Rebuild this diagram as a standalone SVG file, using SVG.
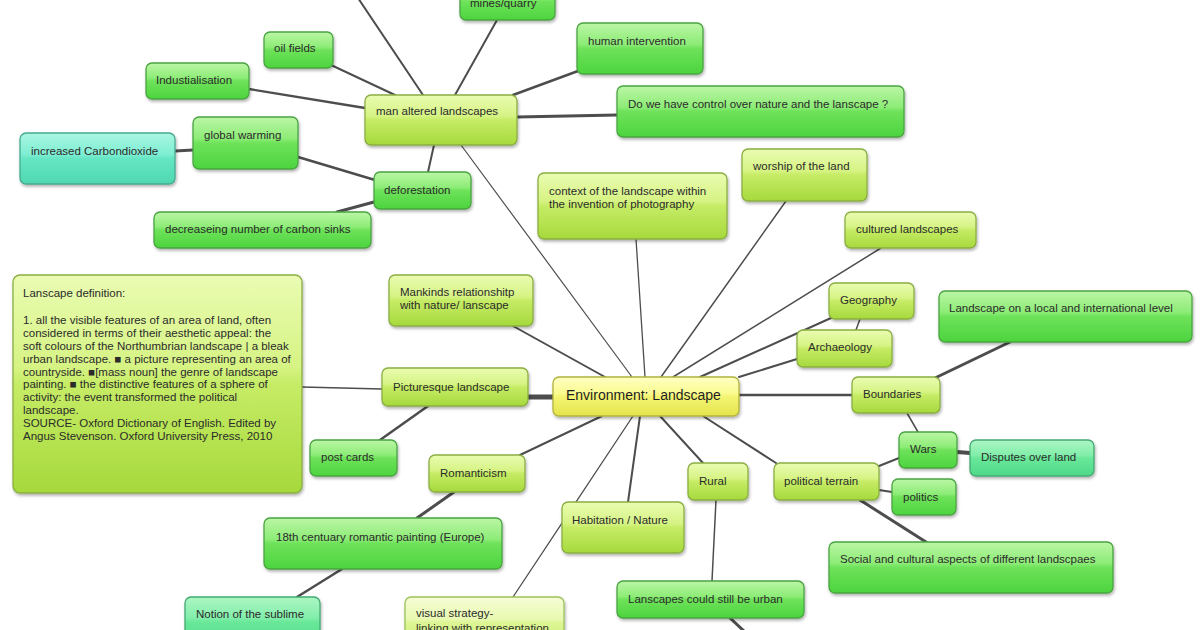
<svg xmlns="http://www.w3.org/2000/svg" width="1200" height="630" viewBox="0 0 1200 630">
<defs>
<linearGradient id="gY" x1="0" y1="0" x2="0" y2="1">
<stop offset="0" stop-color="#eafcb2"/><stop offset="0.42" stop-color="#d6f384"/><stop offset="0.5" stop-color="#c6ec66"/><stop offset="1" stop-color="#a6d93c"/>
</linearGradient>
<linearGradient id="gG" x1="0" y1="0" x2="0" y2="1">
<stop offset="0" stop-color="#bcf6a6"/><stop offset="0.42" stop-color="#8cec76"/><stop offset="0.5" stop-color="#6ee25a"/><stop offset="1" stop-color="#4cd43e"/>
</linearGradient>
<linearGradient id="gT" x1="0" y1="0" x2="0" y2="1">
<stop offset="0" stop-color="#aaf6e2"/><stop offset="0.42" stop-color="#7eeed2"/><stop offset="0.5" stop-color="#66e6c4"/><stop offset="1" stop-color="#4ed8b0"/>
</linearGradient>
<linearGradient id="gM" x1="0" y1="0" x2="0" y2="1">
<stop offset="0" stop-color="#acf6c4"/><stop offset="0.42" stop-color="#82eeaa"/><stop offset="0.5" stop-color="#6ae89a"/><stop offset="1" stop-color="#4ed888"/>
</linearGradient>
<linearGradient id="gC" x1="0" y1="0" x2="0" y2="1">
<stop offset="0" stop-color="#ffffc4"/><stop offset="0.42" stop-color="#fafa90"/><stop offset="0.5" stop-color="#f4f474"/><stop offset="1" stop-color="#e4e44c"/>
</linearGradient>
<linearGradient id="gL" x1="0" y1="0" x2="0" y2="1">
<stop offset="0" stop-color="#f6fdd6"/><stop offset="0.45" stop-color="#e8f9b0"/><stop offset="0.5" stop-color="#def696"/><stop offset="1" stop-color="#c8ee6e"/>
</linearGradient>
<filter id="sh" x="-10%" y="-10%" width="125%" height="140%">
<feDropShadow dx="1" dy="2" stdDeviation="1.4" flood-color="#000" flood-opacity="0.3"/>
</filter>
</defs>
<style>
rect{filter:url(#sh);stroke-width:1.3}
.y{fill:url(#gY);stroke:#8aae42}
.g{fill:url(#gG);stroke:#4aa442}
.t{fill:url(#gT);stroke:#46aa90}
.m{fill:url(#gM);stroke:#44aa72}
.c{fill:url(#gC);stroke:#b2b23c}
.l{fill:url(#gL);stroke:#9cc25a}
text{font-family:"Liberation Sans",Arial,sans-serif;font-size:11.5px;fill:#2b2b2b}
.ct{font-size:14px;fill:#1e1e1e}
#connectors path{fill:none;stroke:#4d4d4d;stroke-linecap:round}
</style>
<rect width="1200" height="630" fill="#ffffff" style="filter:none;stroke:none"/>
<g id="connectors">
<path d="M358,-2 L423,95" stroke-width="2"/>
<path d="M497,20 L455,95" stroke-width="2"/>
<path d="M331,65 L395,95" stroke-width="2"/>
<path d="M249,89 L365,108" stroke-width="2.3"/>
<path d="M578,71 L513,95" stroke-width="2.5"/>
<path d="M617,115 L517,117" stroke-width="3"/>
<path d="M434,145 L428,172" stroke-width="2"/>
<path d="M298,157 L375,180" stroke-width="2.5"/>
<path d="M175,151 L193,150" stroke-width="3"/>
<path d="M374,202 L337,212" stroke-width="3"/>
<path d="M461,145 L632,377" stroke-width="1.2"/>
<path d="M636,239 L645,377" stroke-width="1.3"/>
<path d="M786,201 L661,377" stroke-width="1.5"/>
<path d="M881,248 L673,377" stroke-width="1.5"/>
<path d="M831,318 L700,377" stroke-width="2"/>
<path d="M797,359 L739,377" stroke-width="2"/>
<path d="M852,395 L739,395" stroke-width="2.5"/>
<path d="M513,326 L605,377" stroke-width="2"/>
<path d="M528,397 L553,397" stroke-width="5"/>
<path d="M520,455 L602,416" stroke-width="2"/>
<path d="M513,597 L633,416" stroke-width="1.3"/>
<path d="M628,502 L640,416" stroke-width="2"/>
<path d="M703,463 L660,416" stroke-width="2"/>
<path d="M776,463 L703,416" stroke-width="2"/>
<path d="M302,387 L382,389" stroke-width="1.5"/>
<path d="M428,406 L380,440" stroke-width="2.5"/>
<path d="M454,492 L417,518" stroke-width="3"/>
<path d="M342,569 L297,597" stroke-width="2.5"/>
<path d="M716,500 L712,581" stroke-width="1.5"/>
<path d="M730,618 L745,632" stroke-width="3"/>
<path d="M935,378 L1010,342" stroke-width="3"/>
<path d="M860,319 L856,330" stroke-width="1.5"/>
<path d="M907,413 L918,432" stroke-width="1.5"/>
<path d="M957,452 L970,453" stroke-width="4"/>
<path d="M899,458 L879,466" stroke-width="2"/>
<path d="M879,490 L892,492" stroke-width="2"/>
<path d="M860,500 L926,542" stroke-width="3"/>
</g>
<g id="n-mines"><rect class="g" x="460" y="-17" width="95" height="37" rx="6"/><text x="470" y="7">mines/quarry</text></g>
<g id="n-human"><rect class="g" x="577" y="23" width="126" height="51" rx="6"/><text x="588" y="45">human intervention</text></g>
<g id="n-oil"><rect class="g" x="264" y="32" width="69" height="36" rx="6"/><text x="274" y="52">oil fields</text></g>
<g id="n-indust"><rect class="g" x="146" y="63" width="103" height="36" rx="6"/><text x="156" y="84">Industialisation</text></g>
<g id="n-altered"><rect class="y" x="365" y="95" width="152" height="50" rx="6"/><text x="376" y="115">man altered landscapes</text></g>
<g id="n-control"><rect class="g" x="617" y="86" width="287" height="51" rx="6"/><text x="628" y="108">Do we have control over nature and the lanscape ?</text></g>
<g id="n-warming"><rect class="g" x="193" y="117" width="105" height="52" rx="6"/><text x="204" y="139">global warming</text></g>
<g id="n-carbon"><rect class="t" x="20" y="133" width="155" height="51" rx="6"/><text x="31" y="155">increased Carbondioxide</text></g>
<g id="n-deforest"><rect class="g" x="374" y="172" width="97" height="37" rx="6"/><text x="384" y="194">deforestation</text></g>
<g id="n-sinks"><rect class="g" x="154" y="212" width="217" height="36" rx="6"/><text x="165" y="233">decreaseing number of carbon sinks</text></g>
<g id="n-context"><rect class="y" x="538" y="173" width="189" height="66" rx="6"/><text x="549" y="195">context of the landscape within</text><text x="549" y="208">the invention of photography</text></g>
<g id="n-worship"><rect class="y" x="742" y="149" width="125" height="52" rx="6"/><text x="753" y="170">worship of the land</text></g>
<g id="n-cultured"><rect class="y" x="845" y="212" width="131" height="36" rx="6"/><text x="856" y="233">cultured landscapes</text></g>
<g id="n-definition"><rect class="y" x="13" y="275" width="289" height="218" rx="7"/>
<text x="23" y="297">Lanscape definition:</text>
<text x="23" y="324">1. all the visible features of an area of land, often</text>
<text x="23" y="337">considered in terms of their aesthetic appeal: the</text>
<text x="23" y="350">soft colours of the Northumbrian landscape | a bleak</text>
<text x="23" y="363">urban landscape. ■ a picture representing an area of</text>
<text x="23" y="376">countryside. ■[mass noun] the genre of landscape</text>
<text x="23" y="388">painting. ■ the distinctive features of a sphere of</text>
<text x="23" y="401">activity: the event transformed the political</text>
<text x="23" y="414">landscape.</text>
<text x="23" y="427">SOURCE- Oxford Dictionary of English. Edited by</text>
<text x="23" y="440">Angus Stevenson. Oxford University Press, 2010</text>
</g>
<g id="n-mankinds"><rect class="y" x="389" y="275" width="144" height="51" rx="6"/><text x="400" y="296">Mankinds relationshitp</text><text x="400" y="309">with nature/ lanscape</text></g>
<g id="n-geography"><rect class="y" x="829" y="283" width="85" height="36" rx="6"/><text x="840" y="304">Geography</text></g>
<g id="n-archaeology"><rect class="y" x="797" y="330" width="95" height="37" rx="6"/><text x="808" y="351">Archaeology</text></g>
<g id="n-local"><rect class="g" x="939" y="291" width="253" height="51" rx="6"/><text x="949" y="312">Landscape on a local and international level</text></g>
<g id="n-picturesque"><rect class="y" x="382" y="368" width="146" height="38" rx="6"/><text x="393" y="391">Picturesque landscape</text></g>
<g id="n-center"><rect class="c" x="553" y="377" width="186" height="39" rx="6"/><text class="ct" x="566" y="400">Environment: Landscape</text></g>
<g id="n-boundaries"><rect class="y" x="852" y="377" width="88" height="36" rx="6"/><text x="863" y="398">Boundaries</text></g>
<g id="n-postcards"><rect class="g" x="310" y="440" width="87" height="36" rx="6"/><text x="321" y="461">post cards</text></g>
<g id="n-romanticism"><rect class="y" x="429" y="455" width="96" height="37" rx="6"/><text x="440" y="477">Romanticism</text></g>
<g id="n-wars"><rect class="g" x="899" y="432" width="58" height="36" rx="6"/><text x="910" y="453">Wars</text></g>
<g id="n-disputes"><rect class="m" x="970" y="440" width="124" height="36" rx="6"/><text x="981" y="461">Disputes over land</text></g>
<g id="n-rural"><rect class="y" x="688" y="463" width="60" height="37" rx="6"/><text x="699" y="485">Rural</text></g>
<g id="n-political"><rect class="y" x="774" y="463" width="105" height="37" rx="6"/><text x="784" y="485">political terrain</text></g>
<g id="n-politics"><rect class="g" x="892" y="479" width="64" height="36" rx="6"/><text x="903" y="501">politics</text></g>
<g id="n-habitation"><rect class="y" x="562" y="502" width="122" height="51" rx="6"/><text x="572" y="524">Habitation / Nature</text></g>
<g id="n-painting"><rect class="g" x="264" y="518" width="238" height="51" rx="6"/><text x="276" y="541">18th centuary romantic painting (Europe)</text></g>
<g id="n-social"><rect class="g" x="829" y="542" width="284" height="51" rx="6"/><text x="840" y="563">Social and cultural aspects of different landscpaes</text></g>
<g id="n-urban"><rect class="g" x="617" y="581" width="187" height="37" rx="6"/><text x="628" y="603">Lanscapes could still be urban</text></g>
<g id="n-sublime"><rect class="m" x="185" y="597" width="135" height="50" rx="6"/><text x="196" y="618">Notion of the sublime</text></g>
<g id="n-visual"><rect class="l" x="405" y="597" width="159" height="50" rx="6"/><text x="416" y="617">visual strategy-</text><text x="416" y="632">linking with representation</text></g>
</svg>
